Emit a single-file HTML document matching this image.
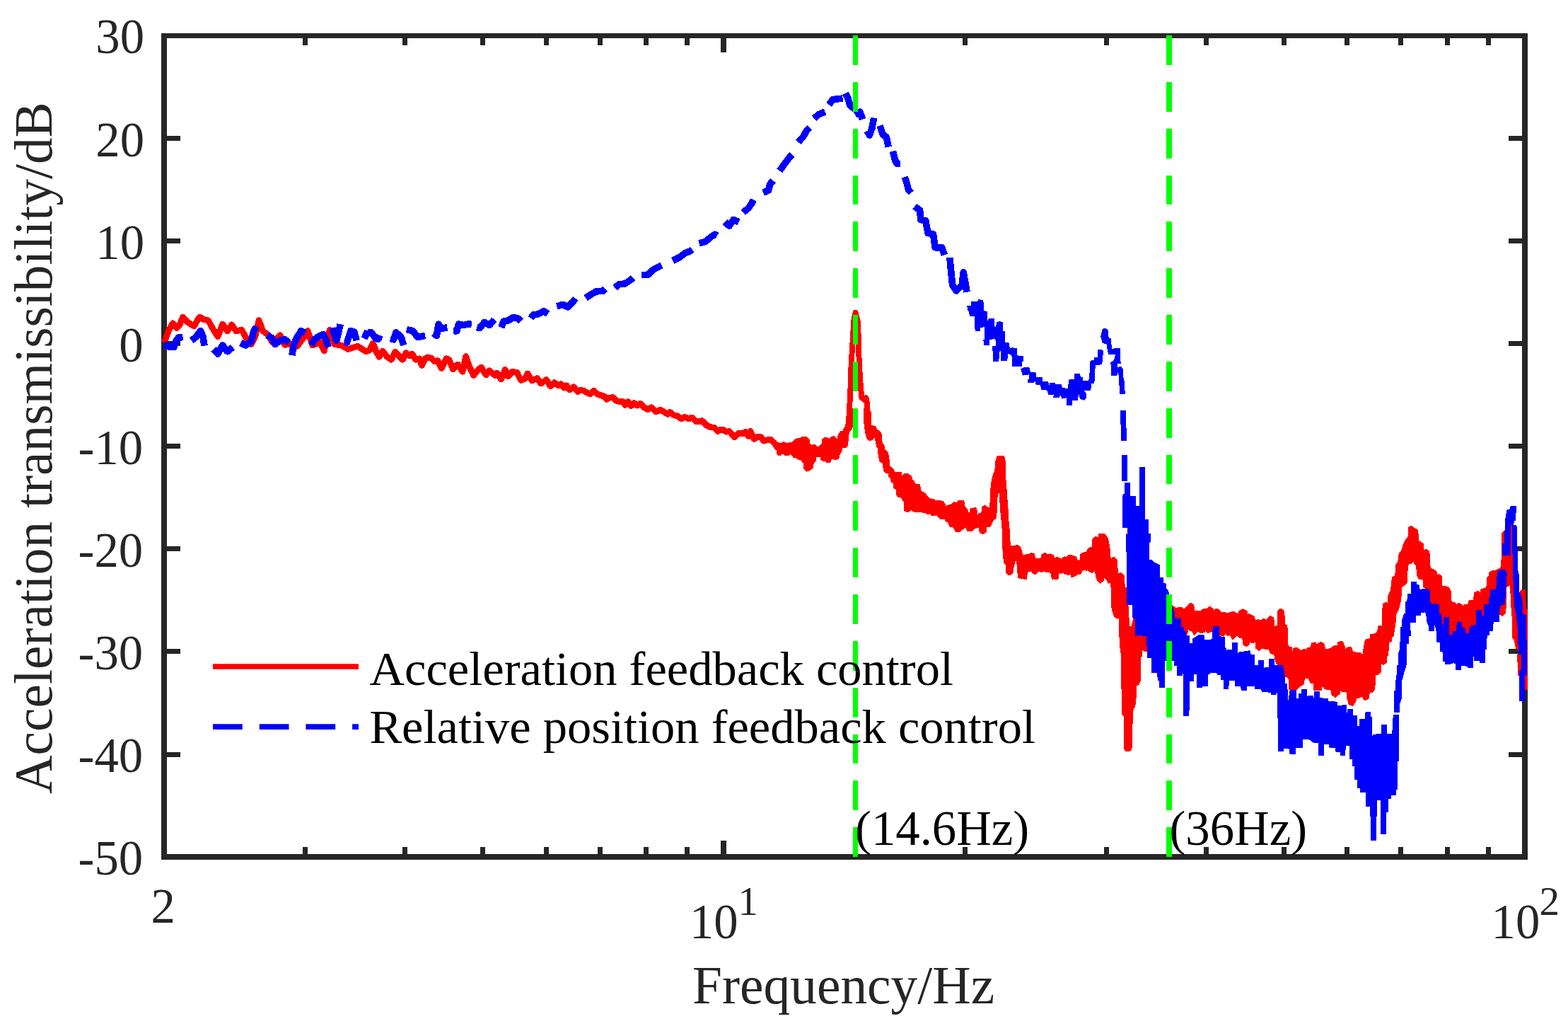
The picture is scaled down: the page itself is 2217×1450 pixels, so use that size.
<!DOCTYPE html>
<html lang="en">
<head>
<meta charset="utf-8">
<title>Acceleration transmissibility</title>
<style>
html,body{margin:0;padding:0;background:#fff;}
body{width:2217px;height:1450px;overflow:hidden;}
svg{display:block;font-family:"Liberation Serif",serif;}
</style>
</head>
<body>
<svg width="2217" height="1450" viewBox="0 0 2217 1450" role="img" aria-label="Acceleration transmissibility versus frequency">
<rect x="0" y="0" width="2217" height="1450" fill="#ffffff"/>
<g id="axes" stroke="#262626" stroke-width="7.0" fill="none" stroke-linecap="butt" shape-rendering="crispEdges">
<line x1="431.4" y1="1211.0" x2="431.4" y2="1197.4"/>
<line x1="431.4" y1="50.6" x2="431.4" y2="64.2"/>
<line x1="572.9" y1="1211.0" x2="572.9" y2="1197.4"/>
<line x1="572.9" y1="50.6" x2="572.9" y2="64.2"/>
<line x1="682.7" y1="1211.0" x2="682.7" y2="1197.4"/>
<line x1="682.7" y1="50.6" x2="682.7" y2="64.2"/>
<line x1="772.4" y1="1211.0" x2="772.4" y2="1197.4"/>
<line x1="772.4" y1="50.6" x2="772.4" y2="64.2"/>
<line x1="848.2" y1="1211.0" x2="848.2" y2="1197.4"/>
<line x1="848.2" y1="50.6" x2="848.2" y2="64.2"/>
<line x1="913.9" y1="1211.0" x2="913.9" y2="1197.4"/>
<line x1="913.9" y1="50.6" x2="913.9" y2="64.2"/>
<line x1="971.8" y1="1211.0" x2="971.8" y2="1197.4"/>
<line x1="971.8" y1="50.6" x2="971.8" y2="64.2"/>
<line x1="1364.6" y1="1211.0" x2="1364.6" y2="1197.4"/>
<line x1="1364.6" y1="50.6" x2="1364.6" y2="64.2"/>
<line x1="1564.0" y1="1211.0" x2="1564.0" y2="1197.4"/>
<line x1="1564.0" y1="50.6" x2="1564.0" y2="64.2"/>
<line x1="1705.5" y1="1211.0" x2="1705.5" y2="1197.4"/>
<line x1="1705.5" y1="50.6" x2="1705.5" y2="64.2"/>
<line x1="1815.3" y1="1211.0" x2="1815.3" y2="1197.4"/>
<line x1="1815.3" y1="50.6" x2="1815.3" y2="64.2"/>
<line x1="1904.9" y1="1211.0" x2="1904.9" y2="1197.4"/>
<line x1="1904.9" y1="50.6" x2="1904.9" y2="64.2"/>
<line x1="1980.8" y1="1211.0" x2="1980.8" y2="1197.4"/>
<line x1="1980.8" y1="50.6" x2="1980.8" y2="64.2"/>
<line x1="2046.4" y1="1211.0" x2="2046.4" y2="1197.4"/>
<line x1="2046.4" y1="50.6" x2="2046.4" y2="64.2"/>
<line x1="2104.4" y1="1211.0" x2="2104.4" y2="1197.4"/>
<line x1="2104.4" y1="50.6" x2="2104.4" y2="64.2"/>
<line x1="1023.1" y1="1211.0" x2="1023.1" y2="1188.0" stroke-width="7.8"/>
<line x1="1023.1" y1="50.6" x2="1023.1" y2="73.6" stroke-width="7.8"/>
<line x1="232.0" y1="195.7" x2="255.0" y2="195.7"/>
<line x1="2156.2" y1="195.7" x2="2133.2" y2="195.7"/>
<line x1="232.0" y1="340.7" x2="255.0" y2="340.7"/>
<line x1="2156.2" y1="340.7" x2="2133.2" y2="340.7"/>
<line x1="232.0" y1="485.8" x2="255.0" y2="485.8"/>
<line x1="2156.2" y1="485.8" x2="2133.2" y2="485.8"/>
<line x1="232.0" y1="630.8" x2="255.0" y2="630.8"/>
<line x1="2156.2" y1="630.8" x2="2133.2" y2="630.8"/>
<line x1="232.0" y1="775.9" x2="255.0" y2="775.9"/>
<line x1="2156.2" y1="775.9" x2="2133.2" y2="775.9"/>
<line x1="232.0" y1="920.9" x2="255.0" y2="920.9"/>
<line x1="2156.2" y1="920.9" x2="2133.2" y2="920.9"/>
<line x1="232.0" y1="1066.0" x2="255.0" y2="1066.0"/>
<line x1="2156.2" y1="1066.0" x2="2133.2" y2="1066.0"/>
<line x1="228.1" y1="50.55" x2="2159.8" y2="50.55" stroke-width="6.8"/>
<line x1="228.1" y1="1210.85" x2="2159.8" y2="1210.85" stroke-width="7.5"/>
<line x1="231.95" y1="47.2" x2="231.95" y2="1214.6" stroke-width="7.7"/>
<line x1="2156.1" y1="47.2" x2="2156.1" y2="1214.6" stroke-width="7.4"/>
</g>
<g id="ticklabels" fill="#262626" font-size="68.75px">
<text x="204.0" y="75.4" text-anchor="end">30</text>
<text x="204.0" y="220.5" text-anchor="end">20</text>
<text x="204.0" y="365.5" text-anchor="end">10</text>
<text x="202.6" y="510.6" text-anchor="end">0</text>
<text x="202.2" y="655.6" text-anchor="end">-10</text>
<text x="202.2" y="800.7" text-anchor="end">-20</text>
<text x="202.2" y="945.7" text-anchor="end">-30</text>
<text x="202.2" y="1090.8" text-anchor="end">-40</text>
<text x="202.2" y="1235.8" text-anchor="end">-50</text>
<text x="230.6" y="1303.9" text-anchor="middle">2</text>
<text x="974.9" y="1325.7">10</text>
<text x="1043.5" y="1293.2" font-size="57.0px">1</text>
<text x="2108.5" y="1325.7">10</text>
<text x="2176.5" y="1293.2" font-size="57.0px">2</text>
</g>
<g id="axislabels" fill="#262626" font-size="75.40px" text-anchor="middle">
<text x="1192.6" y="1418.1">Frequency/Hz</text>
<text transform="translate(72.9 633.0) rotate(-90)" x="0" y="0">Acceleration transmissibility/dB</text>
</g>
<g id="series-red" stroke="#ff0000" fill="none" stroke-width="8.8" stroke-linejoin="round" stroke-linecap="butt" shape-rendering="crispEdges">
<polyline points="232.2,483.9 238.9,466.3 244.4,456.8 249.8,463.6 253.8,459.5 258.6,448.0 264.7,454.8 274.1,460.9 282.2,448.0 287.7,451.4 294.4,452.8 301.2,465.0 308.0,475.8 314.7,458.2 321.5,467.7 327.6,458.9 333.7,467.7 341.8,466.3 349.9,481.2 355.3,486.6 360.7,475.8 366.1,452.8 371.6,467.7 379.7,473.7 385.1,483.9 395.9,473.7 402.7,487.3 410.8,486.6 420.3,489.3 428.4,478.5 435.2,467.7 441.9,488.0 452.7,483.9 458.2,496.1 466.3,466.3 473.0,486.6 482.5,488.0 492.0,493.4 505.5,489.3 517.7,496.8 522.7,494.7 527.4,485.3 532.2,497.4 536.2,504.2 541.0,496.1 547.1,504.2 553.2,508.3 558.6,497.4 564.7,503.5 569.4,508.3 574.1,498.8 579.5,502.8 582.9,500.1 587.7,508.3 593.1,506.9 596.5,516.4 601.2,506.9 604.6,504.9 610.0,506.2 614.7,511.0 618.8,509.6 624.2,520.4 631.0,506.9 635.0,508.3 640.4,521.8 647.2,515.0 654.0,525.2 658.7,503.5 663.4,517.7 669.5,530.6 675.6,523.1 680.4,519.1 687.1,529.9 691.9,523.8 700.0,530.6 702.7,527.2 708.8,536.0 714.2,522.5 718.9,531.9 724.3,525.2 731.1,526.5 736.5,537.3 741.9,535.3 746.0,527.9 752.1,538.0 759.5,534.6 764.9,542.1 772.4,536.7 778.5,546.1 783.9,540.7 789.3,544.8 793.3,542.8 797.4,548.2 800.8,544.8 805.5,550.9 810.9,546.8 817.0,553.6 820.0,551.4 825.4,552.1 829.5,554.8 834.9,556.8 839.6,552.1 844.4,556.8 849.8,558.9 854.5,560.2 857.9,564.3 861.9,562.2 866.7,561.6 871.4,566.3 876.8,567.7 880.9,567.7 883.6,572.4 887.7,567.7 892.4,573.7 896.5,569.7 901.2,573.1 905.3,570.4 910.7,575.8 916.1,578.5 921.5,575.8 927.6,581.9 933.7,579.2 938.4,581.9 944.5,585.3 947.2,582.5 952.6,586.6 958.0,588.0 963.4,592.0 968.2,589.3 974.3,592.0 978.3,590.0 985.1,596.1 992.5,594.7 998.6,600.8 1004.0,603.5 1009.4,604.2 1014.9,609.6 1018.9,606.9 1023.0,607.6 1027.0,610.3 1031.1,609.6 1038.5,617.7 1044.6,612.3 1050.0,613.0 1054.1,610.3 1058.2,616.4 1060.9,609.6 1066.3,620.4 1071.7,617.1 1075.8,617.7 1079.8,623.1 1085.2,621.8 1089.3,621.1 1094.7,625.8 1100.5,634.1"/>
<polyline points="1194.7,609.4 1200.8,601.3 1201.5,568.8 1202.8,541.8 1203.5,517.4 1204.9,493.1 1206.2,471.4 1207.6,449.8 1209.6,441.7 1212.6,453.8 1213.7,474.1 1214.3,501.2 1215.7,528.3 1217.1,548.6 1218.4,562.1 1221.8,564.8 1224.5,562.1 1225.8,568.8 1226.5,589.1 1227.2,606.7 1231.9,605.7 1236.7,609.4 1240.7,614.9" stroke-width="7.9"/>
</g>
<g id="series-red-bands" fill="#ff0000" stroke="#ff0000" stroke-width="3.2" stroke-linejoin="round" shape-rendering="crispEdges">
<polygon points="1100.0,626.3 1104.1,628.3 1108.1,625.6 1112.9,628.3 1116.2,626.9 1120.3,626.3 1124.4,622.2 1129.1,620.2 1132.5,620.8 1133.8,618.8 1140.6,618.8 1143.3,622.2 1144.0,627.6 1147.4,630.3 1152.1,629.6 1154.8,632.3 1158.2,633.0 1160.9,629.6 1162.9,629.0 1163.6,621.5 1166.3,619.5 1170.4,620.2 1172.4,626.3 1174.4,619.5 1178.5,617.5 1181.9,620.8 1183.2,629.0 1186.6,614.1 1189.3,610.7 1193.4,610.0 1194.7,606.6 1196.8,603.9 1197.4,595.1 1198.8,581.6 1205.5,578.4 1204.9,598.7 1203.5,606.1 1200.1,608.8 1198.8,614.9 1197.4,628.5 1196.1,631.2 1192.0,631.2 1190.0,632.5 1188.6,638.6 1186.6,640.6 1184.6,647.4 1181.2,648.8 1178.5,647.4 1174.4,648.1 1173.1,652.1 1169.7,652.8 1167.7,650.8 1164.3,650.8 1161.6,648.8 1160.9,643.4 1158.2,644.7 1152.8,644.7 1152.1,651.5 1149.4,653.5 1148.0,660.9 1143.3,664.3 1140.6,665.0 1137.9,662.3 1137.2,652.8 1135.2,652.1 1133.2,648.8 1129.1,648.8 1126.4,646.1 1122.3,645.4 1121.0,642.7 1117.6,640.0 1114.9,642.7 1110.8,642.7 1106.1,639.3 1103.4,642.0 1100.0,642.0"/>
<polygon points="1229.9,581.6 1230.6,602.6 1236.7,603.3 1239.4,608.0 1244.8,612.0 1246.1,626.3 1248.8,629.6 1250.2,636.4 1254.3,639.8 1255.6,646.6 1257.0,659.4 1262.4,664.1 1265.1,669.6 1267.8,668.2 1273.2,668.2 1273.9,672.3 1275.9,675.6 1278.6,670.9 1282.7,670.2 1287.4,673.6 1288.8,679.0 1291.5,680.4 1292.2,683.8 1295.5,685.8 1299.6,685.8 1300.9,693.9 1303.7,696.6 1307.0,697.3 1311.1,703.4 1315.2,706.1 1319.9,706.8 1321.9,708.1 1326.0,708.1 1332.7,709.5 1335.5,713.5 1336.8,717.6 1339.5,715.6 1344.9,714.2 1349.0,710.8 1354.4,711.5 1355.8,708.1 1361.8,708.1 1363.2,717.6 1365.9,719.6 1369.3,727.1 1372.0,725.0 1373.3,719.6 1379.4,718.9 1381.5,729.8 1384.2,727.1 1388.9,726.4 1389.6,716.9 1393.0,715.6 1397.0,718.9 1400.0,718.9 1400.3,718.4 1401.7,703.5 1402.3,684.5 1405.0,672.3 1407.7,666.3 1409.1,650.7 1411.1,645.3 1418.6,645.3 1419.9,650.7 1420.6,675.1 1421.9,690.6 1422.6,702.1 1424.0,719.7 1424.7,734.6 1426.0,747.4 1426.7,763.0 1427.4,771.1 1430.1,773.2 1434.1,772.5 1438.2,771.5 1441.6,773.8 1443.6,779.2 1445.6,790.7 1447.7,785.3 1454.4,784.7 1457.8,782.6 1461.2,783.3 1463.2,791.4 1468.0,790.1 1472.7,790.1 1474.0,784.7 1477.4,782.6 1480.8,785.3 1484.2,784.0 1488.3,785.3 1490.3,790.1 1495.0,788.7 1498.4,790.1 1500.4,794.1 1502.5,789.4 1505.8,788.0 1508.6,789.4 1510.6,786.0 1514.0,785.3 1516.7,786.7 1520.7,787.4 1522.1,792.8 1525.5,793.5 1528.2,791.4 1528.8,784.0 1532.9,782.0 1537.0,782.0 1538.3,777.2 1540.0,775.4 1545.4,774.1 1546.1,761.9 1549.5,759.2 1553.5,761.9 1554.9,755.1 1560.3,755.1 1565.0,760.5 1567.7,772.7 1569.1,789.0 1571.1,791.7 1574.5,788.3 1578.6,792.3 1579.2,813.3 1584.0,810.6 1588.0,813.3 1589.4,830.9 1592.8,832.3 1593.9,856.6 1597.5,913.5 1599.5,958.1 1587.4,954.9 1586.7,925.1 1585.3,913.0 1584.0,899.4 1583.3,872.4 1580.6,873.0 1576.5,871.0 1573.2,861.5 1571.8,820.9 1567.7,823.0 1564.4,816.9 1560.3,814.2 1559.6,819.6 1555.6,823.0 1551.5,818.2 1548.8,804.7 1544.1,808.1 1540.0,806.1 1539.7,804.5 1535.6,805.1 1533.6,803.8 1530.2,804.5 1527.5,809.9 1523.4,810.6 1519.4,813.3 1515.3,814.6 1514.0,803.1 1511.3,811.2 1505.8,810.6 1504.5,807.8 1500.4,809.2 1496.4,807.8 1495.0,817.3 1488.3,817.3 1486.9,809.2 1484.2,807.8 1480.1,807.8 1477.4,805.8 1473.4,807.2 1467.3,806.5 1463.9,810.6 1460.5,809.2 1459.2,804.5 1457.1,806.5 1451.7,807.2 1450.4,817.3 1440.9,816.0 1439.5,805.1 1438.9,793.6 1437.5,790.9 1434.1,793.0 1432.1,800.4 1430.7,809.9 1426.7,811.9 1424.0,809.2 1423.3,797.0 1420.6,795.0 1419.2,780.1 1418.6,755.7 1417.9,742.9 1416.5,729.4 1415.2,713.1 1414.5,696.9 1412.5,694.9 1409.1,698.2 1408.4,715.2 1407.7,729.4 1406.4,732.7 1403.7,734.1 1401.7,737.5 1400.3,740.9 1400.0,742.8 1397.7,743.5 1393.6,744.2 1393.0,751.6 1389.6,753.6 1386.2,751.6 1385.5,744.8 1382.1,744.8 1377.4,745.5 1373.3,749.6 1368.6,749.6 1366.6,744.2 1363.9,744.2 1357.1,750.3 1352.4,750.9 1349.0,744.2 1344.2,743.5 1340.9,737.4 1338.2,736.0 1336.8,732.7 1330.0,732.7 1326.0,727.9 1323.3,725.2 1321.9,727.2 1317.9,727.9 1315.8,725.2 1311.1,725.2 1309.1,723.2 1305.7,723.9 1303.0,721.8 1300.3,722.5 1293.5,722.5 1288.1,719.1 1285.4,721.8 1282.0,722.5 1279.3,720.5 1279.3,708.3 1276.6,706.3 1275.9,702.9 1271.9,701.5 1269.1,700.2 1268.5,691.4 1264.4,688.7 1264.4,682.6 1261.0,679.9 1260.4,675.2 1257.6,673.1 1257.0,667.7 1252.9,667.0 1250.9,665.0 1248.8,653.5 1244.8,651.5 1243.4,644.7 1242.1,632.5 1240.7,630.5 1238.0,618.3 1236.0,617.6 1233.3,620.3 1229.9,621.7 1226.5,619.0 1224.5,609.5 1223.1,598.7 1222.5,578.4"/>
<polygon points="1584.0,886.5 1584.7,913.5 1586.7,927.1 1587.4,1008.3 1590.1,1011.0 1590.3,1057.0 1592.1,1060.4 1596.8,1060.4 1598.9,1058.3 1599.5,1035.3 1600.2,1015.0 1601.2,1000.1 1603.6,998.8 1605.0,986.6 1605.2,967.7 1609.0,967.0 1611.0,962.2 1611.4,929.8 1613.1,927.1 1613.7,886.5"/>
<polygon points="1596.8,935.9 1597.5,911.9 1598.9,897.0 1600.2,888.8 1602.2,880.7 1603.6,875.3 1623.9,875.3 1623.9,920.0 1617.1,918.6 1615.8,906.4 1613.1,902.4 1611.7,929.4 1610.4,935.9"/>
<polygon points="1621.2,871.5 1657.1,856.6 1661.8,860.7 1669.9,859.3 1674.0,862.0 1679.4,858.0 1683.4,853.2 1686.8,855.3 1687.5,864.7 1697.0,864.7 1702.4,861.4 1706.4,862.0 1710.5,858.7 1713.9,860.7 1715.2,864.7 1720.0,861.4 1724.0,863.4 1725.4,866.8 1732.2,866.8 1734.9,868.1 1738.9,866.8 1744.3,865.4 1748.4,868.1 1750.4,872.2 1752.4,864.7 1757.9,862.0 1761.9,864.1 1762.6,870.2 1766.0,868.8 1772.7,872.2 1773.4,877.6 1779.5,876.9 1783.6,878.3 1786.3,875.6 1789.7,876.9 1791.7,890.4 1792.4,874.9 1795.8,871.5 1799.8,873.5 1800.5,887.7 1803.9,885.7 1807.3,885.7 1807.3,864.1 1810.6,861.4 1814.7,864.1 1815.4,883.7 1818.8,884.4 1820.1,914.8 1825.5,915.5 1826.9,931.0 1829.6,917.5 1833.0,916.2 1836.3,918.9 1836.5,918.4 1837.2,934.7 1838.6,920.5 1844.7,918.4 1848.0,921.1 1848.7,917.1 1854.1,915.7 1855.5,909.6 1859.5,909.0 1862.2,915.7 1864.3,910.3 1867.7,908.3 1871.7,911.0 1872.4,922.5 1873.7,919.1 1881.2,917.8 1886.6,913.7 1892.0,913.0 1892.7,908.3 1897.4,907.6 1900.8,915.7 1902.2,929.3 1904.2,916.4 1909.6,915.7 1912.3,922.5 1917.7,923.2 1923.1,923.8 1927.9,927.2 1929.2,916.4 1931.3,904.9 1938.0,903.5 1938.7,897.5 1944.8,896.8 1948.8,893.4 1949.5,886.0 1955.6,885.3 1956.2,854.0 1959.5,852.6 1962.9,855.3 1964.3,840.4 1967.7,835.0 1968.3,826.9 1969.7,816.1 1973.7,815.4 1975.1,798.5 1977.8,794.4 1979.2,782.9 1982.5,779.6 1985.3,770.1 1989.3,762.0 1992.0,759.9 1992.7,745.7 1995.4,744.4 1998.8,747.1 2003.5,749.8 2004.9,764.7 2007.6,766.7 2011.0,768.7 2012.3,779.6 2016.4,777.5 2019.8,779.6 2021.1,803.2 2025.8,805.9 2029.9,808.0 2030.6,814.7 2034.0,812.7 2037.3,814.7 2038.0,829.6 2043.4,829.6 2047.5,831.0 2050.2,836.4 2050.9,849.9 2054.3,852.6 2057.6,853.3 2058.3,858.0 2062.4,853.3 2066.4,855.3 2067.8,858.7 2070.5,856.0 2076.6,855.3 2077.9,849.9 2082.7,849.9 2084.7,850.6 2085.4,838.4 2089.4,836.4 2093.5,840.4 2094.9,833.7 2100.3,832.3 2103.0,830.3 2103.7,817.4 2106.4,814.7 2107.0,809.3 2111.1,807.3 2114.5,808.0 2117.9,805.9 2121.9,803.9 2124.0,799.9 2124.6,753.8 2127.3,751.1 2130.0,748.4 2136.8,743.0 2139.5,742.8 2142.2,748.4 2143.6,772.8 2144.2,813.4 2144.9,854.0 2147.0,888.7 2147.0,918.4 2147.0,915.2 2144.3,915.2 2142.3,904.4 2139.6,900.3 2138.9,858.4 2137.5,857.5 2136.8,823.7 2136.1,810.2 2134.8,810.2 2134.1,826.4 2128.7,829.1 2128.7,852.8 2127.3,865.7 2124.0,869.0 2120.6,867.0 2103.0,877.8 2075.9,899.5 2048.8,899.5 2035.3,884.6 2021.8,864.3 2016.4,830.5 2013.7,829.1 2013.0,818.3 2006.9,817.0 2004.9,812.9 2003.5,798.7 2000.8,796.0 2000.1,787.9 1998.1,787.9 1997.4,792.6 1994.7,795.3 1992.0,794.6 1989.3,799.4 1988.0,823.7 1984.6,826.4 1980.5,829.1 1979.8,846.0 1978.5,852.8 1976.5,860.3 1972.5,867.9 1971.9,880.7 1970.5,889.5 1969.1,898.3 1967.1,899.0 1966.4,905.8 1962.4,907.1 1961.7,925.4 1959.7,927.4 1959.0,936.2 1955.6,938.2 1951.6,935.5 1950.9,950.4 1947.5,952.4 1943.4,951.8 1942.8,973.4 1940.1,977.5 1935.3,978.2 1934.0,987.0 1929.9,988.3 1925.8,982.9 1921.8,984.9 1917.7,984.9 1915.0,992.4 1912.3,996.4 1908.3,995.1 1905.5,985.6 1904.9,976.1 1897.4,976.1 1894.7,973.4 1893.4,979.5 1888.0,984.2 1883.9,981.5 1882.5,974.1 1873.7,972.7 1868.3,963.9 1867.7,974.8 1858.2,974.8 1858.2,964.6 1853.5,963.9 1849.4,954.5 1848.0,957.2 1843.3,957.9 1842.6,966.0 1835.2,970.7 1832.5,973.4 1823.7,973.4 1823.0,957.2 1816.9,955.2 1814.9,942.3 1812.9,938.2 1806.8,938.2 1805.2,936.0 1802.5,924.5 1797.1,922.4 1794.4,915.7 1790.3,916.3 1783.6,915.0 1780.2,918.4 1776.8,915.7 1776.1,906.2 1770.0,907.5 1766.0,904.2 1765.3,910.3 1761.9,912.3 1758.5,910.3 1757.9,900.8 1753.8,900.8 1749.1,896.0 1743.0,902.1 1738.9,895.4 1736.2,897.4 1732.2,894.0 1729.4,898.1 1724.7,896.0 1713.9,891.3 1707.8,893.3 1703.7,889.3 1702.4,892.7 1697.0,893.3 1694.3,890.0 1688.8,896.0 1686.1,890.6 1682.1,890.0 1680.1,885.2 1677.3,896.0 1657.1,907.5 1621.2,918.4"/>
<polygon points="2153.1,885.7 2158.3,885.7 2158.3,973.7 2156.5,973.7 2155.8,954.7 2153.1,953.4"/>
<polygon points="2149.0,885.9 2150.3,836.8 2152.4,834.8 2155.1,834.8 2156.4,860.5 2158.2,862.5 2158.2,885.9"/>
<polygon points="2147.0,925.0 2151.8,925.0 2151.8,953.4 2147.3,953.4"/>
</g>
<g id="series-blue" stroke="#0000ff" fill="none" stroke-width="9.6" stroke-linejoin="round" stroke-linecap="butt" shape-rendering="crispEdges">
<polyline points="232.2,486.6 238.9,490.0 245.7,490.7 249.1,481.2 252.5,477.1 258.6,476.5"/>
<polyline points="270.7,481.2 276.8,476.5 283.6,467.7 287.0,475.8 289.0,488.6"/>
<polyline points="301.9,493.4 308.0,500.1 314.7,488.0 321.5,496.8 328.9,490.7"/>
<polyline points="340.4,484.6 347.2,488.0 355.3,482.5 358.0,470.4 360.1,465.0 364.1,467.7"/>
<polyline points="377.6,473.7 383.7,477.1 389.1,486.6 395.9,481.2 402.7,479.8 408.8,484.6"/>
<polyline points="412.8,502.2 414.9,489.3 418.9,478.5 425.7,467.7 431.8,470.4"/>
<polyline points="439.9,488.0 444.6,479.8 450.0,475.8 456.8,472.4 461.5,481.2 464.2,490.7"/>
<polyline points="469.7,463.6 475.8,481.2 479.1,467.7 481.2,458.2"/>
<polyline points="487.3,482.5 490.6,483.9 496.0,467.7 500.8,469.0 504.2,481.2"/>
<polyline points="515.0,478.5 520.0,467.7"/>
<polyline points="520.0,469.7 524.7,469.7 531.5,478.5 534.9,479.2 536.9,473.7"/>
<polyline points="551.8,478.5 556.5,479.8 559.9,469.7 567.4,477.1 570.7,488.0"/>
<polyline points="574.8,465.6 583.6,467.7 590.4,476.5 601.2,474.4"/>
<polyline points="612.7,471.0 617.4,474.4 620.1,458.2 623.5,464.3 632.3,462.9"/>
<polyline points="641.1,468.3 645.8,467.7 648.6,458.2 655.3,459.5 662.1,457.9 666.8,458.5"/>
<polyline points="674.3,462.5 678.3,463.6 685.1,455.5 691.9,459.5 698.9,451.7"/>
<polyline points="708.8,462.9 712.2,454.1 718.9,452.8 725.7,448.4 732.4,450.1 736.5,453.9"/>
<polyline points="750.7,449.8 754.1,444.7 760.9,444.0 769.0,439.6 774.7,443.6"/>
<polyline points="787.3,432.9 796.0,430.4 802.8,433.8 809.6,427.1 813.9,421.9"/>
<polyline points="828.1,421.1 834.9,416.6 843.0,411.9 852.5,411.2 855.5,408.1"/>
<polyline points="869.4,406.7 875.5,401.7 883.6,401.0 891.7,395.6 895.1,392.6"/>
<polyline points="907.3,388.6 916.1,388.2 924.2,380.7 932.3,376.7 935.7,375.0"/>
<polyline points="951.3,368.3 960.7,363.8 968.8,357.7 975.6,355.0 978.6,352.6"/>
<polyline points="988.5,343.9 997.3,341.5 1005.4,334.7 1010.8,331.3 1014.2,333.1"/>
<polyline points="1025.0,313.7 1031.1,319.2 1037.2,310.4 1044.6,313.7"/>
<polyline points="1050.7,300.2 1058.2,294.1 1062.9,287.4 1065.2,282.2"/>
<polyline points="1079.1,272.2 1086.6,269.1 1088.6,260.3 1093.1,255.2"/>
<polyline points="1102.3,241.4 1109.1,231.9 1114.5,224.5 1119.9,218.4"/>
<polyline points="1128.7,200.8 1135.5,193.4 1140.9,183.9 1144.7,180.1"/>
<polyline points="1151.0,167.4 1157.8,161.6 1166.6,157.9"/>
<polyline points="1172.0,148.0 1177.4,140.6 1184.2,139.9 1191.6,139.0"/>
<polyline points="1195.3,131.8 1199.1,139.2 1201.8,148.7 1205.8,152.1 1209.9,154.8"/>
<polyline points="1209.2,162.5 1216.0,158.2 1219.6,168.7"/>
<polyline points="1225.9,185.0 1229.5,190.9 1232.9,181.2 1235.6,166.6"/>
<polyline points="1244.0,177.4 1248.5,190.7 1253.2,193.4 1256.2,207.6"/>
<polyline points="1262.4,213.7 1265.4,225.8 1268.1,231.3 1272.8,231.5"/>
<polyline points="1279.2,250.2 1282.3,259.7 1284.3,267.8 1288.1,272.5"/>
<polyline points="1293.2,291.7 1300.6,297.1 1301.9,310.6 1308.7,311.9 1312.1,329.5 1319.5,330.9 1322.2,349.8 1331.7,349.8 1335.5,360.4"/>
<polyline points="1342.8,364.0 1346.6,402.6 1352.0,411.0 1360.1,403.3 1362.2,385.0 1367.2,412.8"/>
</g>
<g id="series-blue-bands" fill="#0000ff" stroke="none" shape-rendering="crispEdges">
<polygon points="1367.4,432.5 1372.9,431.8 1373.5,426.4 1382.3,425.7 1383.0,423.0 1390.4,424.4 1391.1,439.2 1395.9,439.9 1396.5,452.8 1398.6,450.1 1406.0,450.1 1406.7,465.0 1409.4,455.5 1413.5,454.1 1418.2,455.5 1417.5,467.7 1420.9,468.3 1420.9,483.9 1427.0,484.6 1427.7,492.0 1430.4,491.3 1437.8,492.0 1438.5,502.2 1446.6,503.5 1447.3,510.3 1445.3,511.0 1444.6,518.4 1431.0,518.4 1431.0,505.5 1429.0,500.8 1425.0,500.1 1424.3,509.6 1415.5,509.6 1414.1,490.7 1412.1,511.0 1404.0,511.0 1403.3,489.3 1408.0,488.6 1407.4,479.2 1399.2,479.8 1398.6,488.0 1391.1,488.0 1390.4,480.5 1391.8,479.8 1392.5,462.2 1386.4,462.9 1385.7,467.7 1379.6,467.7 1378.3,465.0 1378.3,446.7 1370.8,446.7 1370.1,439.9 1368.1,439.2"/>
<polygon points="1443.2,521.1 1448.0,519.1 1455.4,519.1 1456.8,525.8 1464.2,525.8 1465.5,532.6 1473.7,533.3 1474.3,538.7 1481.8,539.4 1483.8,544.8 1484.5,541.4 1491.9,541.4 1492.6,543.4 1500.7,542.8 1502.1,548.2 1509.5,548.8 1511.6,536.0 1519.0,536.0 1519.0,527.9 1527.1,527.9 1527.8,532.6 1531.2,533.3 1531.2,538.0 1539.3,538.0 1540.6,525.8 1541.3,511.0 1543.4,508.9 1547.4,509.6 1547.4,505.5 1551.5,504.9 1552.2,494.0 1560.3,494.7 1558.2,515.0 1549.4,516.4 1548.1,523.1 1547.4,542.1 1543.4,542.1 1542.0,552.2 1534.6,552.2 1532.5,551.6 1535.9,556.3 1535.9,563.1 1532.5,565.8 1527.1,563.7 1525.1,557.0 1523.7,565.8 1516.3,566.4 1515.6,572.5 1508.2,572.5 1507.5,562.4 1501.4,563.7 1499.4,558.3 1497.3,562.4 1489.2,562.4 1489.9,557.6 1482.5,557.6 1480.4,551.6 1472.3,550.9 1471.0,544.1 1463.5,543.4 1463.5,539.4 1461.5,541.4 1453.4,541.4 1452.7,536.7 1454.7,536.0 1455.4,527.9 1453.4,529.9 1445.9,530.6"/>
<polygon points="1556.2,475.8 1558.2,466.3 1561.6,463.6 1566.4,465.6 1567.7,477.8 1571.1,478.5 1571.8,493.4 1576.5,492.0 1584.0,492.0 1584.6,513.7 1579.9,514.3 1579.9,519.1 1585.3,517.7 1588.0,521.8 1588.7,538.0 1590.0,538.7 1590.7,557.0 1583.3,557.0 1581.2,525.2 1579.2,531.3 1571.1,531.3 1570.4,512.3 1575.2,508.3 1577.2,500.8 1567.0,500.8 1564.3,485.9 1558.9,485.3"/>
<polygon points="1584.0,580.0 1592.1,580.0 1592.1,604.7 1593.0,604.7 1593.0,622.9 1585.1,622.9 1585.1,599.9 1584.0,599.9"/>
<polygon points="1586.0,642.9 1594.1,642.9 1594.1,679.9 1586.0,679.9"/>
<polygon points="2124.0,784.7 2124.0,768.5 2127.3,767.8 2127.3,753.6 2128.7,729.2 2130.7,720.4 2134.1,719.8 2136.1,715.0 2143.6,715.0 2143.6,723.8 2142.9,736.0 2140.9,736.7 2140.2,741.4 2136.1,742.1 2136.1,763.1 2135.5,784.7"/>
<polygon points="2138.2,742.1 2143.6,742.1 2144.9,744.1 2145.6,776.6 2146.3,806.4 2147.6,811.1 2148.3,836.1 2152.4,845.6 2153.0,867.3 2157.8,868.6 2157.8,885.9 2159.2,920.9 2159.2,953.4 2155.8,954.7 2155.8,991.3 2148.4,991.3 2147.7,948.0 2151.1,946.6 2151.1,925.0 2147.0,925.0 2145.7,887.1 2144.3,874.9 2141.6,860.0 2140.2,838.8 2139.2,811.8 2138.4,776.6"/>
<polygon points="1970.5,1010.2 1977.9,1010.2 1977.9,1055.9 1969.1,1055.9 1969.1,1016.3"/>
<polygon points="1590.1,681.8 1598.2,681.8 1598.2,700.7 1605.9,700.7 1605.9,714.9 1611.0,714.9 1611.0,660.1 1619.2,660.1 1619.2,733.9 1623.9,733.9 1623.9,753.5 1626.6,754.2 1626.6,766.4 1625.3,767.1 1625.3,790.7 1628.6,791.4 1632.0,794.8 1640.1,798.2 1640.1,815.8 1644.9,816.5 1644.9,823.9 1648.9,824.6 1648.9,832.0 1651.0,832.7 1653.0,838.8 1657.1,857.7 1660.4,863.8 1661.1,874.0 1669.9,874.0 1669.9,885.5 1674.0,886.1 1674.0,891.6 1676.7,892.2 1677.3,897.6 1682.1,898.3 1682.1,909.1 1685.5,909.1 1685.5,902.4 1690.2,900.4 1694.9,897.0 1702.4,897.0 1703.1,903.7 1707.1,904.4 1713.9,903.1 1714.6,888.8 1715.9,884.8 1724.0,884.8 1724.0,897.6 1727.4,899.7 1732.2,900.4 1732.2,914.6 1733.5,915.9 1733.5,918.6 1742.3,917.9 1742.3,907.8 1749.7,907.8 1749.7,923.4 1752.4,921.3 1759.2,920.6 1760.6,920.0 1767.3,919.3 1768.7,924.7 1774.1,925.4 1774.1,935.9 1774.1,939.9 1778.8,939.9 1778.8,932.5 1787.0,932.5 1787.0,944.0 1789.0,943.3 1794.4,942.6 1794.4,931.1 1801.8,931.1 1801.8,939.9 1802.0,939.8 1812.9,939.8 1814.9,943.9 1816.9,956.8 1816.9,965.5 1820.3,966.2 1821.0,991.3 1822.3,984.5 1823.7,975.0 1832.5,975.0 1832.5,986.5 1835.9,986.5 1835.9,979.8 1839.9,979.8 1839.9,974.3 1848.0,974.3 1848.0,983.8 1850.1,983.1 1856.8,983.1 1857.5,986.5 1858.2,977.1 1866.3,977.1 1866.3,985.8 1870.4,986.5 1877.8,987.2 1877.8,991.3 1885.9,991.3 1890.7,991.9 1891.3,996.7 1896.1,996.7 1904.2,996.0 1904.2,1008.8 1905.5,1002.1 1913.0,1002.1 1913.0,1010.9 1919.1,1010.9 1919.1,1025.8 1921.8,1025.8 1922.5,1016.3 1929.9,1015.6 1930.6,1005.5 1938.0,1005.5 1938.0,1012.9 1940.1,1013.6 1940.1,1040.6 1941.4,1037.9 1948.8,1037.3 1952.9,1036.6 1952.9,1024.4 1961.0,1024.4 1961.0,1036.6 1967.8,1036.6 1968.5,1031.9 1969.1,1016.3 1970.5,1010.2 1977.9,1010.2 1977.9,1054.9 1977.9,1075.9 1975.9,1075.9 1975.9,1115.8 1973.9,1115.8 1973.9,1123.9 1967.1,1123.9 1967.1,1128.6 1963.1,1128.6 1963.1,1148.3 1960.4,1148.3 1960.4,1179.4 1952.2,1179.4 1952.2,1130.7 1946.8,1130.7 1946.1,1187.5 1938.0,1187.5 1937.3,1139.5 1931.3,1139.5 1930.6,1119.8 1922.5,1119.8 1922.5,1114.4 1919.1,1114.4 1919.1,1101.6 1915.0,1101.6 1915.0,1083.3 1912.3,1083.3 1912.3,1072.5 1908.3,1072.5 1907.6,1053.5 1902.8,1053.5 1902.2,1067.7 1894.7,1067.7 1894.7,1063.0 1888.6,1063.0 1888.0,1056.9 1879.8,1056.9 1878.5,1051.5 1872.4,1051.5 1871.7,1067.7 1864.3,1067.7 1863.6,1049.5 1856.8,1049.5 1850.1,1044.7 1841.9,1044.7 1841.9,1056.9 1832.5,1056.9 1831.8,1065.7 1823.7,1065.7 1822.3,1057.6 1814.9,1057.6 1814.9,1062.3 1806.8,1062.3 1807.3,1062.4 1805.9,977.8 1803.9,981.9 1797.1,981.9 1797.1,978.5 1793.0,978.5 1791.7,977.8 1784.2,977.8 1782.2,973.7 1774.1,973.7 1774.1,970.4 1763.3,970.4 1762.6,975.8 1755.2,975.8 1753.8,969.7 1746.4,969.7 1745.7,962.2 1738.2,962.2 1736.9,974.4 1730.1,974.4 1730.1,960.9 1726.1,960.9 1726.1,953.5 1721.3,953.5 1719.3,950.7 1711.2,950.7 1710.5,952.8 1707.8,952.8 1707.8,970.4 1699.7,970.4 1699.7,972.4 1692.2,972.4 1692.2,952.8 1687.5,952.8 1687.5,962.9 1682.1,962.9 1681.4,1012.3 1673.3,1012.3 1673.3,948.0 1671.9,954.8 1663.8,954.8 1663.8,940.6 1660.4,940.6 1660.4,933.8 1646.9,933.8 1646.9,971.7 1639.1,971.7 1639.1,962.2 1636.8,961.6 1636.1,950.7 1628.0,950.7 1628.0,930.4 1621.9,930.4 1621.9,930.8 1621.2,899.0 1613.1,898.3 1605.0,898.3 1605.0,875.3 1600.9,872.6 1600.9,855.0 1593.0,855.0 1593.0,780.6 1592.1,779.9 1592.1,753.5 1594.1,755.9 1594.1,745.7 1587.1,745.7 1587.1,702.1 1588.0,698.0 1590.1,698.0"/>
<polygon points="1971.2,1006.8 1971.2,976.4 1973.2,975.7 1973.2,963.5 1974.6,953.4 1975.2,940.5 1977.3,939.8 1977.3,922.9 1979.3,916.8 1980.0,886.4 1982.0,885.7 1982.0,874.9 1984.7,874.9 1985.4,866.8 1982.5,875.4 1985.3,874.7 1985.3,867.3 1987.3,866.6 1987.3,850.4 1989.3,849.7 1990.0,838.8 1995.4,838.8 1995.4,821.9 2002.8,821.9 2003.5,826.0 2006.9,826.7 2007.6,832.8 2012.3,832.1 2019.8,832.1 2021.8,835.5 2022.5,851.0 2024.5,853.7 2029.9,853.1 2035.3,855.1 2034.7,866.1 2038.1,868.1 2038.8,880.3 2040.8,885.0 2041.5,871.5 2048.9,871.5 2048.9,896.5 2053.7,896.5 2054.3,891.8 2059.1,891.8 2059.8,878.9 2066.5,878.9 2067.2,885.0 2071.9,889.1 2072.6,894.5 2076.7,894.5 2078.0,885.0 2086.8,883.0 2086.8,862.0 2094.9,862.0 2095.6,870.8 2097.6,870.1 2098.3,860.0 2098.2,854.4 2105.0,853.7 2105.7,842.2 2107.0,841.6 2107.0,833.4 2115.2,832.8 2116.5,815.2 2117.2,808.4 2121.2,805.0 2128.0,805.0 2130.7,809.1 2130.0,827.3 2128.7,830.7 2128.4,854.4 2121.9,855.1 2120.3,860.5 2120.0,860.0 2120.0,878.9 2111.9,878.9 2110.5,891.8 2106.4,891.8 2105.8,897.9 2103.1,898.6 2102.4,902.6 2101.7,917.5 2100.4,918.2 2099.7,936.5 2092.2,936.5 2092.2,933.7 2084.1,933.7 2083.4,927.0 2082.8,943.9 2075.3,943.9 2074.6,941.9 2065.8,940.5 2065.8,946.6 2058.4,946.6 2057.7,938.5 2055.0,937.1 2051.0,938.5 2043.5,938.5 2042.8,935.1 2039.5,934.4 2039.5,921.6 2036.1,920.9 2036.1,908.0 2031.3,907.4 2030.7,892.5 2028.6,883.0 2028.0,891.8 2020.5,891.8 2019.8,884.4 2017.8,881.0 2016.5,870.8 2015.1,865.4 2009.0,866.1 2009.0,869.5 2002.3,870.1 2001.6,879.6 1994.1,880.3 1994.8,898.6 1992.1,899.2 1992.1,909.4 1988.7,910.7 1988.7,939.8 1987.4,943.9 1984.7,953.4 1982.0,962.8 1982.0,986.5 1979.2,995.3 1978.6,1006.8 1971.1,1006.8"/>
</g>
<g id="marks" stroke="#00ff00" stroke-width="7.0" fill="none" stroke-dasharray="41.8 24.03" shape-rendering="crispEdges">
<line x1="1209.5" y1="50.17" x2="1209.5" y2="1211.0" stroke-width="7.0"/>
<line x1="1653.0" y1="50.17" x2="1653.0" y2="1211.0" stroke-width="8.0"/>
</g>
<g id="legend">
<line x1="301" y1="942.1" x2="507" y2="942.1" stroke="#ff0000" stroke-width="7.5"/>
<line x1="301" y1="1027.1" x2="507" y2="1027.1" stroke="#0000ff" stroke-width="7.6" stroke-dasharray="41.8 23.9"/>
<g fill="#000" font-size="68.50px">
<text x="522.6" y="968.1">Acceleration feedback control</text>
<text x="522.4" y="1049.5">Relative position feedback control</text>
</g></g>
<g id="annot" fill="#000" font-size="68.75px">
<text x="1209.0" y="1193.6">(14.6Hz)</text>
<text x="1653.4" y="1193.6">(36Hz)</text>
</g>
</svg>
</body>
</html>
